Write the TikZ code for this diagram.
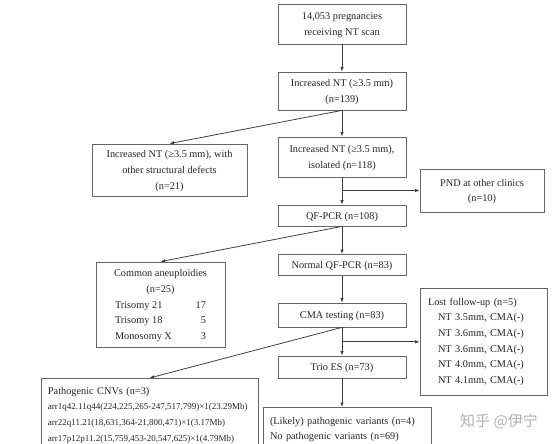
\documentclass[tikz,border=0pt]{standalone}
\usepackage{fontspec}
\setmainfont{Liberation Serif}
\newfontfamily\cjkfont{Noto Sans CJK SC}
\usetikzlibrary{arrows.meta}

\begin{document}
\begin{tikzpicture}[x=1pt, y=-1pt,
    box/.style={draw=black!60, line width=0.8pt, text=black!85, inner sep=0pt, align=center, font=\fontsize{10.3}{15.7}\selectfont},
    cbox/.style={box, text depth=-3.5pt},
    lbox/.style={box, anchor=north, inner xsep=7, inner ysep=9.5, align=left},
    arr/.style={draw=black!75, line width=0.8pt, -{Latex[length=4.5pt,width=3.5pt]}}]
    % Frame
    \clip (0,0) rectangle (558,444);
    \fill[white] (0,0) rectangle (558,444);

    % Main column
    \node[cbox, minimum width=128, minimum height=40] (scan) at (342,24) {14,053 pregnancies\\receiving NT scan};
    \node[cbox, minimum width=128, minimum height=38] (nt) at (342,91) {Increased NT (≥3.5 mm)\\(n=139)};
    \node[cbox, minimum width=128, minimum height=40] (isolated) at (342,157) {Increased NT (≥3.5 mm),\\isolated (n=118)};
    \node[cbox, minimum width=128, minimum height=21] (qf) at (342,215.5) {QF-PCR (n=108)};
    \node[cbox, minimum width=128, minimum height=21] (normal) at (342,265) {Normal QF-PCR (n=83)};
    \node[cbox, minimum width=128, minimum height=24] (cma) at (342,315) {CMA testing (n=83)};
    \node[cbox, minimum width=128, minimum height=22] (trio) at (342,367) {Trio ES (n=73)};
    \node[lbox, text width=154] (result) at (347,407)
        {(Likely) pathogenic variants (n=4)\\No pathogenic variants (n=69)\\\strut};

    % Side boxes, left
    \node[cbox, minimum width=155, minimum height=52] (defects) at (169.5,170) {Increased NT (≥3.5 mm), with\\other structural defects\\(n=21)};
    \node[cbox, minimum width=129, minimum height=85] (aneu) at (160.5,304.5)
        {Common aneuploidies\\(n=25)\\
         \makebox[91pt]{Trisomy 21\hfill 17}\\
         \makebox[91pt]{Trisomy 18\hfill 5}\\
         \makebox[91pt]{Monosomy X\hfill 3}};
    \node[lbox, text width=203, inner ysep=8.5] (cnv) at (149.5,378)
        {Pathogenic CNVs (n=3)\\
         {\fontsize{9}{15.7}\selectfont arr1q42.11q44(224,225,265-247,517,799)×1(23.29Mb)}\\
         {\fontsize{9}{15.7}\selectfont arr22q11.21(18,631,364-21,800,471)×1(3.17Mb)}\\
         {\fontsize{9}{15.7}\selectfont arr17p12p11.2(15,759,453-20,547,625)×1(4.79Mb)}\\\strut};

    % Side boxes, right
    \node[cbox, minimum width=124, minimum height=43] (pnd) at (482,190.5) {PND at other clinics\\(n=10)};
    \node[lbox, minimum height=103, text width=111, inner xsep=8] (lost) at (483.5,288)
        {Lost follow-up (n=5)\\
         \hspace*{10pt}NT 3.5mm, CMA(-)\\
         \hspace*{10pt}NT 3.6mm, CMA(-)\\
         \hspace*{10pt}NT 3.6mm, CMA(-)\\
         \hspace*{10pt}NT 4.0mm, CMA(-)\\
         \hspace*{10pt}NT 4.1mm, CMA(-)};

    % Connectors
    \draw[arr] (scan) -- (nt);
    \draw[arr] (nt) -- (isolated);
    \draw[arr] (nt.south) -- (defects.north);
    \draw[arr] (isolated) -- (qf);
    \draw[arr] (isolated.south |- pnd.west) -- (pnd.west);
    \draw[arr] (qf) -- (normal);
    \draw[arr] (qf.south) -- (aneu.north);
    \draw[arr] (normal) -- (cma);
    \draw[arr] (cma) -- (trio);
    \draw[arr] (cma.south |- lost.west) -- (lost.west);
    \draw[arr] (cma.south) -- (cnv.north);
    \draw[arr] (trio.south) -- (result.north -| trio.south);

    % Watermark
    \node[text=black!30, font=\cjkfont\fontsize{15}{15}\selectfont] (mark) at (499,421) {知乎 @伊宁};
\end{tikzpicture}
\end{document}
